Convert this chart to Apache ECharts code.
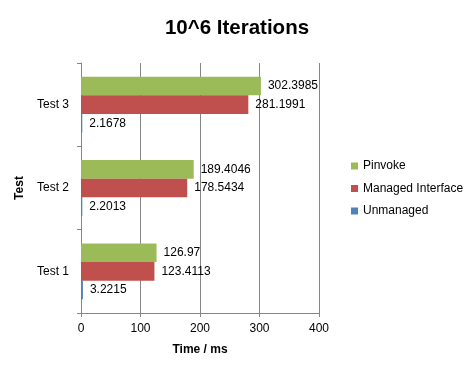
<!DOCTYPE html>
<html>
<head>
<meta charset="utf-8">
<script src="https://cdn.jsdelivr.net/npm/echarts@6/dist/echarts.min.js"></script>
<style>
html,body{margin:0;padding:0;background:#fff;}
#c{width:474px;height:376px;}
</style>
</head>
<body>
<div id="c"></div>
<script>
const categories = ['Test 1', 'Test 2', 'Test 3'];
const unmanaged = [3.2215, 2.2013, 2.1678];
const managedInterface = [123.4113, 178.5434, 281.1991];
const pinvoke = [126.97, 189.4046, 302.3985];
const xTicks = [0, 100, 200, 300, 400];
const legendNames = ['Pinvoke', 'Managed Interface', 'Unmanaged'];

const font = 'Liberation Sans';
const chart = echarts.init(document.getElementById('c'));
const label = {
  show: true, position: 'right', distance: 7,
  color: '#000', fontFamily: font, fontSize: 12,
  formatter: p => String(p.value)
};
function mk(name, data, color) {
  return {
    name, type: 'bar', data, barGap: '0%', barCategoryGap: '33%',
    itemStyle: { color }, label, animation: false
  };
}
chart.setOption({
  animation: false,
  title: {
    text: '10^6 Iterations', left: 'center', top: 13,
    textStyle: { fontFamily: font, fontSize: 20.5, fontWeight: 'bold', color: '#000' }
  },
  legend: {
    orient: 'vertical', left: 346, top: 155,
    itemWidth: 7, itemHeight: 7, itemGap: 10.5,
    icon: 'rect',
    data: legendNames,
    textStyle: { fontFamily: font, fontSize: 12, color: '#000' }
  },
  grid: { left: 81, right: 155, top: 63, bottom: 63, containLabel: false },
  xAxis: {
    type: 'value', min: xTicks[0], max: xTicks[xTicks.length - 1], interval: 100,
    name: 'Time / ms', nameLocation: 'middle', nameGap: 31,
    nameTextStyle: { fontFamily: font, fontSize: 12, fontWeight: 'bold', color: '#000' },
    axisLine: { show: true, lineStyle: { color: '#868686' } },
    axisTick: { show: true, length: 4, lineStyle: { color: '#868686' } },
    axisLabel: { fontFamily: font, fontSize: 12, color: '#000', margin: 10 },
    splitLine: { show: true, lineStyle: { color: '#868686' } }
  },
  yAxis: {
    type: 'category', data: categories,
    name: 'Test', nameLocation: 'middle', nameGap: 44, nameRotate: 90,
    nameTextStyle: { fontFamily: font, fontSize: 12, fontWeight: 'bold', color: '#000' },
    axisLine: { show: true, lineStyle: { color: '#868686' } },
    axisTick: { show: true, length: 4, lineStyle: { color: '#868686' } },
    axisLabel: { fontFamily: font, fontSize: 12, color: '#000', margin: 12 },
    splitLine: { show: false }
  },
  series: [
    mk('Pinvoke', pinvoke, '#9BBB59'),
    mk('Managed Interface', managedInterface, '#C0504D'),
    mk('Unmanaged', unmanaged, '#4F81BD')
  ]
});
</script>
</body>
</html>
